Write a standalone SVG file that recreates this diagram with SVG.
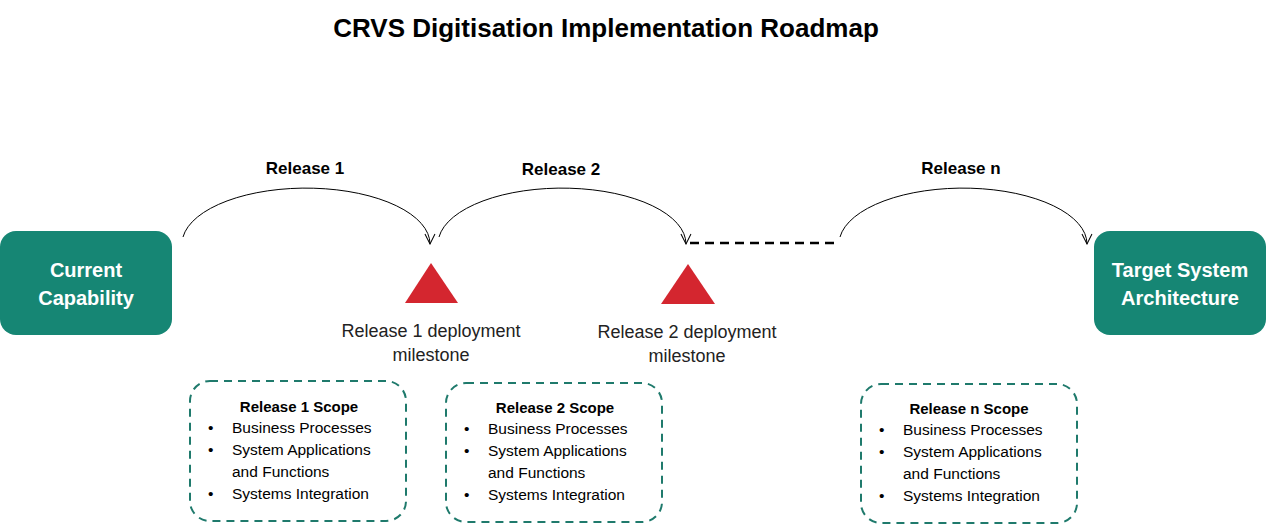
<svg xmlns="http://www.w3.org/2000/svg" width="1266" height="525" viewBox="0 0 1266 525">
<style>
.title{font-family:"Liberation Sans",Arial,sans-serif;font-weight:bold;font-size:26px;fill:#000;text-anchor:middle}
.node rect.solid{fill:#168674}
.nodetext{font-family:"Liberation Sans",Arial,sans-serif;font-weight:bold;font-size:20px;fill:#fff;text-anchor:middle}
.rel{font-family:"Liberation Sans",Arial,sans-serif;font-weight:bold;font-size:17px;fill:#000;text-anchor:middle}
.ms{font-family:"Liberation Sans",Arial,sans-serif;font-size:18px;fill:#222;text-anchor:middle}
.tri{fill:#d4262f}
.scope{fill:none;stroke:#1f7a6c;stroke-width:2;stroke-dasharray:8 6}
.sh{font-family:"Liberation Sans",Arial,sans-serif;font-weight:bold;font-size:15px;fill:#000;text-anchor:middle}
.sb{font-family:"Liberation Sans",Arial,sans-serif;font-size:15.5px;fill:#000}
.arc{fill:none;stroke:#000;stroke-width:1}
.dash{fill:none;stroke:#000;stroke-width:2.5;stroke-dasharray:9 6}
</style>
<defs>
<marker id="arr" viewBox="0 0 12 12" refX="11" refY="6" markerWidth="12" markerHeight="12" markerUnits="userSpaceOnUse" orient="auto">
<path d="M1,1 L11,6 L1,11" fill="none" stroke="#000" stroke-width="1"/>
</marker>
</defs>
<rect width="1266" height="525" fill="#fff"/>
<text class="title" x="606" y="37">CRVS Digitisation Implementation Roadmap</text>

<g id="current-capability" class="node">
<rect class="solid" x="0" y="231" width="172" height="104" rx="16"/>
<text class="nodetext" x="86" y="277">Current</text>
<text class="nodetext" x="86" y="305">Capability</text>
</g>
<g id="target-system-architecture" class="node">
<rect class="solid" x="1094" y="231" width="172" height="104" rx="16"/>
<text class="nodetext" x="1180" y="277">Target System</text>
<text class="nodetext" x="1180" y="305">Architecture</text>
</g>

<g id="connectors">
<path class="arc" d="M183,237 A124 56 0 0 1 430,244" marker-end="url(#arr)"/>
<path class="arc" d="M439,237 A124 56 0 0 1 686,244" marker-end="url(#arr)"/>
<path class="dash" d="M690,243 L837,243"/>
<path class="arc" d="M840,237 A124 56 0 0 1 1087,244" marker-end="url(#arr)"/>
<text class="rel" x="305" y="174">Release 1</text>
<text class="rel" x="561" y="175">Release 2</text>
<text class="rel" x="961" y="174">Release n</text>
</g>

<g id="milestone-1">
<path class="tri" d="M431,263 L458,303 L405,303 Z"/>
<text class="ms" x="431" y="337">Release 1 deployment</text>
<text class="ms" x="431" y="361">milestone</text>
</g>
<g id="milestone-2">
<path class="tri" d="M688,264 L715,304 L661,304 Z"/>
<text class="ms" x="687" y="338">Release 2 deployment</text>
<text class="ms" x="687" y="362">milestone</text>
</g>

<g id="scope-1">
<rect class="scope" x="190" y="381" width="216" height="140" rx="20"/>
<text class="sh" x="299" y="412">Release 1 Scope</text>
<text class="sb" x="208" y="433">•</text><text class="sb" x="232" y="433">Business Processes</text>
<text class="sb" x="208" y="455">•</text><text class="sb" x="232" y="455">System Applications</text>
<text class="sb" x="232" y="477">and Functions</text>
<text class="sb" x="208" y="499">•</text><text class="sb" x="232" y="499">Systems Integration</text>
</g>
<g id="scope-2">
<rect class="scope" x="446" y="383" width="216" height="139" rx="20"/>
<text class="sh" x="555" y="413">Release 2 Scope</text>
<text class="sb" x="464" y="434">•</text><text class="sb" x="488" y="434">Business Processes</text>
<text class="sb" x="464" y="456">•</text><text class="sb" x="488" y="456">System Applications</text>
<text class="sb" x="488" y="478">and Functions</text>
<text class="sb" x="464" y="500">•</text><text class="sb" x="488" y="500">Systems Integration</text>
</g>
<g id="scope-n">
<rect class="scope" x="861" y="384" width="216" height="139" rx="20"/>
<text class="sh" x="969" y="414">Release n Scope</text>
<text class="sb" x="879" y="435">•</text><text class="sb" x="903" y="435">Business Processes</text>
<text class="sb" x="879" y="457">•</text><text class="sb" x="903" y="457">System Applications</text>
<text class="sb" x="903" y="479">and Functions</text>
<text class="sb" x="879" y="501">•</text><text class="sb" x="903" y="501">Systems Integration</text>
</g>
</svg>
